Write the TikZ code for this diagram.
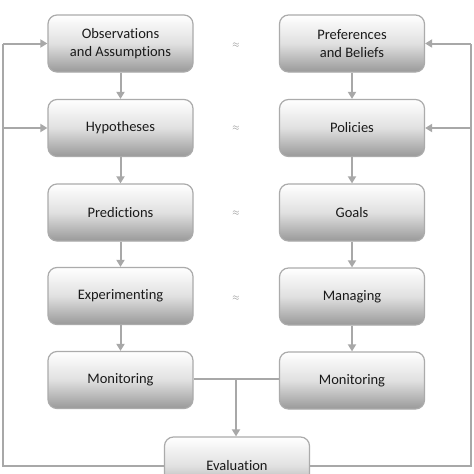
\documentclass[tikz,border=0pt]{standalone}
\usepackage{fontspec}
\setmainfont{Carlito}[Ligatures={NoCommon}]
\usetikzlibrary{arrows.meta}
\definecolor{linegray}{HTML}{A8A8A8}
\definecolor{boxedge}{HTML}{ABABAB}
\definecolor{txt}{HTML}{1A1A1A}
\tikzset{
  box/.style={draw=boxedge, line width=1.2pt, rounded corners=9pt,
    top color=white, bottom color=black!40, middle color=black!12,
    minimum width=145pt, minimum height=57pt, inner sep=2pt,
    align=center, text=txt, font=\fontsize{14.5}{18}\selectfont},
  conn/.style={draw=linegray, line width=2pt},
  arr/.style={conn, -{Triangle[length=7pt,width=8pt]}},
  approx/.style={text=gray, font=\fontsize{9}{9}\selectfont, inner sep=0pt}
}
\begin{document}
\begin{tikzpicture}[x=1pt,y=-1pt]
\useasboundingbox (0,0) rectangle (474,474);
\begin{scope}
\clip (0,0) rectangle (474,474);
\node[box] (obs) at (120.5,43.5) {Observations\\and Assumptions};
\node[box] (hyp) at (120.5,128) {Hypotheses};
\node[box] (pred) at (120.5,212.5) {Predictions};
\node[box] (exp) at (120.5,296) {Experimenting};
\node[box] (monl) at (120.5,380) {Monitoring};
\node[box] (pref) at (352,43.5) {Preferences\\and Beliefs};
\node[box] (pol) at (352,128) {Policies};
\node[box] (goal) at (352,212.5) {Goals};
\node[box] (man) at (352,296.5) {Managing};
\node[box] (monr) at (352,380.5) {Monitoring};
\node[box, minimum height=58pt, text depth=0pt] (eval) at (237,466) {\raisebox{2pt}{Evaluation}};
\end{scope}
\node[approx] (a1) at (236,45) {$\approx$};
\node[approx] (a2) at (236,128) {$\approx$};
\node[approx] (a3) at (236,213) {$\approx$};
\node[approx] (a4) at (236,298) {$\approx$};
\coordinate (j) at (236,378.5);
\coordinate (bl) at (3,466);
\coordinate (br) at (471,466);
% vertical chains
\draw[arr] (obs) -- (hyp);
\draw[arr] (hyp) -- (pred);
\draw[arr] (pred) -- (exp);
\draw[arr] (exp) -- (monl);
\draw[arr] (pref) -- (pol);
\draw[arr] (pol) -- (goal);
\draw[arr] (goal) -- (man);
\draw[arr] (man) -- (monr);
% monitoring to evaluation
\draw[conn] (monl.east |- j) -- (monr.west |- j);
\draw[arr] (j) -- (eval.north -| j);
% left feedback
\draw[conn, line join=miter] (eval.west |- bl) -- (bl) -- (bl |- obs);
\draw[arr] (bl |- obs) -- (obs.west);
\draw[arr] (bl |- hyp) -- (hyp.west);
% right feedback
\draw[conn, line join=miter] (eval.east |- br) -- (br) -- (br |- pref);
\draw[arr] (br |- pref) -- (pref.east);
\draw[arr] (br |- pol) -- (pol.east);
\end{tikzpicture}
\end{document}
